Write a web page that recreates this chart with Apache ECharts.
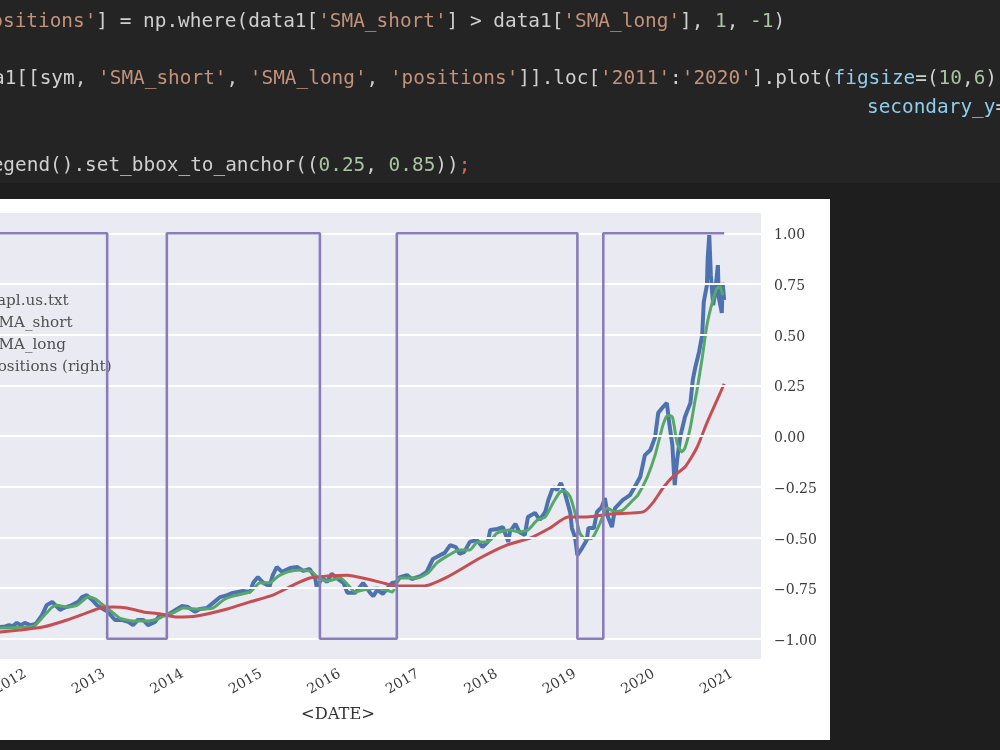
<!DOCTYPE html>
<html>
<head>
<meta charset="utf-8">
<title>SMA positions</title>
<script src="https://cdn.jsdelivr.net/npm/echarts@6/dist/echarts.min.js"></script>
<style>
html, body {margin: 0; padding: 0; background: #1e1e1e;}
#main {width: 1000px; height: 750px;}
</style>
</head>
<body>
<div id="main"></div>
<script>
/* Years shown on the date axis. */
var yearTicks     = [2011, 2012, 2013, 2014, 2015, 2016, 2017, 2018, 2019, 2020, 2021];
var positionTicks = [-1, -0.75, -0.5, -0.25, 0, 0.25, 0.5, 0.75, 1];

/* Close price. */
var priceDates = [
    2011.60, 2011.68, 2011.74, 2011.79, 2011.84, 2011.89, 2011.94, 2011.99, 2012.06, 2012.13, 2012.21, 2012.27,
    2012.34, 2012.38, 2012.44, 2012.48, 2012.59, 2012.67, 2012.72, 2012.78, 2012.85, 2012.91, 2012.99, 2013.05,
    2013.14, 2013.23, 2013.31, 2013.37, 2013.43, 2013.50, 2013.56, 2013.65, 2013.71, 2013.80, 2013.87, 2013.99,
    2014.07, 2014.16, 2014.22, 2014.31, 2014.39, 2014.48, 2014.57, 2014.64, 2014.77, 2014.86, 2014.90, 2014.96,
    2015.03, 2015.11, 2015.15, 2015.20, 2015.27, 2015.37, 2015.46, 2015.54, 2015.62, 2015.69, 2015.71, 2015.78,
    2015.84, 2015.90, 2015.98, 2016.05, 2016.10, 2016.20, 2016.30, 2016.39, 2016.43, 2016.48, 2016.55, 2016.67,
    2016.73, 2016.77, 2016.86, 2016.92, 2017.03, 2017.11, 2017.19, 2017.28, 2017.34, 2017.41, 2017.48, 2017.53,
    2017.59, 2017.66, 2017.75, 2017.82, 2017.89, 2017.92, 2018.01, 2018.08, 2018.15, 2018.17, 2018.24, 2018.29,
    2018.36, 2018.40, 2018.49, 2018.55, 2018.62, 2018.66, 2018.72, 2018.77, 2018.82, 2018.87, 2018.94, 2018.96,
    2019.00, 2019.03, 2019.09, 2019.15, 2019.17, 2019.24, 2019.28, 2019.34, 2019.38, 2019.42, 2019.47, 2019.51,
    2019.61, 2019.70, 2019.76, 2019.83, 2019.89, 2019.96, 2020.02, 2020.06, 2020.12, 2020.17, 2020.20, 2020.24,
    2020.26, 2020.27, 2020.30, 2020.34, 2020.40, 2020.47, 2020.50, 2020.53, 2020.58, 2020.62, 2020.64, 2020.68,
    2020.69, 2020.71, 2020.73, 2020.76, 2020.78, 2020.82, 2020.83, 2020.87, 2020.88, 2020.90
];
var priceValues = [
    12.9, 13.2, 13.4, 13.8, 13.5, 14.5, 13.8, 14.5, 13.8, 14.2, 16.9, 20.0,
    21.0, 20.0, 18.5, 19.1, 20.0, 21.0, 22.5, 23.1, 21.6, 20.0, 18.8, 17.9,
    15.4, 15.4, 14.8, 13.8, 15.4, 15.4, 13.8, 14.8, 16.9, 16.9, 17.9, 19.7,
    19.4, 17.9, 18.8, 19.1, 20.7, 22.5, 23.1, 23.8, 24.4, 24.1, 26.9, 28.7,
    26.9, 25.9, 29.3, 31.8, 30.3, 31.5, 31.8, 30.6, 31.2, 28.4, 25.6, 28.4,
    27.2, 29.7, 28.1, 26.9, 23.8, 23.8, 26.9, 23.8, 22.8, 24.7, 23.5, 26.9,
    27.2, 28.7, 29.3, 28.1, 29.0, 30.3, 34.3, 35.5, 36.2, 38.6, 38.0, 35.9,
    36.5, 39.6, 40.2, 38.0, 39.6, 43.3, 43.6, 44.2, 39.6, 42.7, 45.2, 42.7,
    41.7, 47.3, 48.6, 46.4, 48.9, 52.6, 56.6, 55.7, 57.9, 54.8, 48.6, 43.9,
    41.1, 35.5, 37.7, 40.2, 43.9, 43.9, 48.9, 50.4, 53.2, 47.3, 44.2, 50.1,
    52.6, 54.1, 56.6, 59.7, 66.5, 68.1, 72.1, 79.6, 81.4, 82.7, 76.5, 69.6,
    61.0, 57.2, 65.0, 72.1, 78.3, 82.7, 89.8, 93.5, 98.5, 103.7, 114.0, 119.2,
    127.6, 134.7, 122.3, 113.0, 116.1, 125.4, 115.5, 110.6, 119.9, 114.6
];

/* Short moving average. */
var shortDates = [
    2011.60, 2011.68, 2012.10, 2012.22, 2012.34, 2012.40, 2012.53, 2012.66, 2012.80, 2012.89, 2012.99, 2013.10,
    2013.20, 2013.37, 2013.55, 2013.68, 2013.78, 2013.88, 2014.01, 2014.18, 2014.39, 2014.52, 2014.64, 2014.86,
    2014.99, 2015.11, 2015.22, 2015.34, 2015.50, 2015.65, 2015.73, 2015.84, 2016.01, 2016.11, 2016.20, 2016.30,
    2016.48, 2016.67, 2016.77, 2016.99, 2017.13, 2017.24, 2017.37, 2017.53, 2017.66, 2017.76, 2017.89, 2018.01,
    2018.17, 2018.29, 2018.40, 2018.52, 2018.62, 2018.72, 2018.81, 2018.87, 2018.94, 2019.00, 2019.06, 2019.13,
    2019.22, 2019.32, 2019.41, 2019.51, 2019.61, 2019.74, 2019.80, 2019.92, 2020.02, 2020.12, 2020.18, 2020.24,
    2020.30, 2020.36, 2020.40, 2020.47, 2020.53, 2020.55, 2020.62, 2020.68, 2020.75, 2020.81, 2020.85, 2020.88
];
var shortValues = [
    12.6, 12.9, 13.5, 16.3, 19.4, 20.0, 19.4, 20.0, 22.5, 21.9, 20.0, 17.9,
    16.0, 15.1, 15.1, 15.7, 16.9, 17.6, 19.1, 18.8, 19.1, 21.6, 22.8, 24.1,
    26.9, 26.9, 29.0, 30.3, 30.9, 30.3, 28.4, 27.5, 28.4, 26.2, 24.1, 24.7,
    25.3, 24.1, 28.4, 28.4, 30.0, 33.1, 35.2, 37.1, 37.1, 39.6, 39.6, 42.4,
    43.3, 42.7, 43.3, 46.4, 47.3, 51.7, 55.1, 55.4, 53.5, 48.6, 42.4, 40.5,
    40.8, 45.5, 50.1, 48.9, 49.5, 52.6, 54.1, 59.7, 66.5, 75.8, 78.9, 78.3,
    70.3, 67.5, 68.7, 75.2, 83.6, 86.1, 96.6, 106.8, 114.0, 118.3, 118.6, 116.1
];

/* Long moving average. */
var longDates = [
    2011.60, 2011.68, 2011.93, 2012.22, 2012.53, 2012.78, 2012.95, 2013.11, 2013.29, 2013.50, 2013.71, 2013.93,
    2014.18, 2014.57, 2014.86, 2015.15, 2015.41, 2015.62, 2015.84, 2016.10, 2016.35, 2016.55, 2016.73, 2017.06,
    2017.37, 2017.79, 2018.13, 2018.43, 2018.68, 2018.91, 2019.15, 2019.48, 2019.87, 2019.99, 2020.12, 2020.24,
    2020.40, 2020.55, 2020.68, 2020.81, 2020.90
];
var longValues = [
    11.4, 11.7, 12.3, 13.2, 15.4, 17.6, 19.1, 19.4, 19.1, 17.9, 17.3, 16.3,
    16.6, 18.8, 21.0, 23.1, 26.2, 28.4, 29.0, 29.3, 28.1, 26.9, 25.9, 25.9,
    28.7, 34.6, 38.6, 40.8, 43.9, 47.3, 47.3, 48.3, 48.9, 51.7, 56.3, 59.7,
    62.8, 68.7, 76.5, 83.6, 88.6
];

/* Positions on the secondary axis. */
var positionDates  = [2011.00, 2013.04, 2013.04, 2013.80, 2013.80, 2015.75, 2015.75, 2016.73, 2016.73, 2019.03, 2019.03, 2019.36, 2019.36, 2020.90];
var positionValues = [1, 1, -1, -1, 1, 1, -1, -1, 1, 1, -1, -1, 1, 1];

var legendNames = ['aapl.us.txt', 'SMA_short', 'SMA_long', 'positions (right)'];

/* Notebook code above the figure: [x, y, [[style, text], ...]]. */
var codeLines = [
    [-8.7, 22, [['s', "ositions'"], ['d', '] = np.where(data1['], ['s', "'SMA_short'"], ['d', '] > data1['], ['s', "'SMA_long'"], ['d', '], '], ['n', '1'], ['d', ', '], ['n', '-1'], ['d', ')']]],
    [-7, 79, [['d', 'a1[[sym, '], ['s', "'SMA_short'"], ['d', ', '], ['s', "'SMA_long'"], ['d', ', '], ['s', "'positions'"], ['d', ']].loc['], ['s', "'2011'"], ['d', ':'], ['s', "'2020'"], ['d', '].plot('], ['p', 'figsize'], ['d', '=('], ['n', '10'], ['d', ','], ['n', '6'], ['d', '),']]],
    [867, 108, [['p', 'secondary_y'], ['d', '=']]],
    [-8.3, 166, [['d', 'egend().set_bbox_to_anchor(('], ['n', '0.25'], ['d', ', '], ['n', '0.85'], ['d', '))'], ['r', ';']]]
];

var serifFont = '"DejaVu Serif", serif';
var monoFont  = '"DejaVu Sans Mono", "Liberation Mono", monospace';

/**
 * Zip dates and values into [x, y] pairs.
 *
 * @param  array $dates
 * @param  array $values
 * @access public
 * @return array
 */
function zipSeries(dates, values)
{
    return dates.map(function(date, i){return [date, values[i]]});
}

/**
 * Build a rich text graphic for one line of code.
 *
 * @param  array $line
 * @access public
 * @return object
 */
function codeGraphic(line)
{
    var text = line[2].map(function(token){return '{' + token[0] + '|' + token[1] + '}'}).join('');
    var base = {fontFamily: monoFont, fontSize: 19.4};
    var rich = {
        d: Object.assign({fill: '#cfcfcf'}, base),
        s: Object.assign({fill: '#c3927a'}, base),
        n: Object.assign({fill: '#a9c4a0'}, base),
        p: Object.assign({fill: '#8fcdec'}, base),
        r: Object.assign({fill: '#d8664f'}, base)
    };
    return {
        type: 'text',
        x: line[0],
        y: line[1],
        silent: true,
        style: {text: text, rich: rich, verticalAlign: 'middle', fontFamily: monoFont, fontSize: 19.4, fill: '#cfcfcf'}
    };
}

var background = [
    {type: 'rect', z: -10, silent: true, shape: {x: 0, y: 0, width: 1000, height: 183}, style: {fill: '#242424'}},
    {type: 'rect', z: -10, silent: true, shape: {x: 0, y: 183, width: 1000, height: 567}, style: {fill: '#1e1e1e'}},
    {type: 'rect', z: -9, silent: true, shape: {x: 0, y: 199, width: 830, height: 541}, style: {fill: '#ffffff'}}
];

var labelStyle = {color: '#3a3a3a', fontFamily: serifFont, fontSize: 14};

var chart  = echarts.init(document.getElementById('main'), null, {renderer: 'canvas'});
var option = {
    animation: false,
    backgroundColor: '#1e1e1e',
    textStyle: {fontFamily: serifFont},
    graphic: {elements: background.concat(codeLines.map(codeGraphic))},
    legend: {
        orient: 'vertical',
        left: -48,
        top: 294,
        padding: 0,
        itemWidth: 30,
        itemHeight: 14,
        itemGap: 6.8,
        itemStyle: {opacity: 1},
        textStyle: {color: '#505050', fontFamily: serifFont, fontSize: 15.2},
        data: legendNames
    },
    grid: {
        show: true,
        left: -92,
        right: 239,
        top: 213,
        bottom: 91,
        borderWidth: 0,
        outerBoundsMode: 'none',
        backgroundColor: '#eaeaf2'
    },
    xAxis: {
        type: 'value',
        min: 2010.503,
        max: 2021.369,
        name: '<DATE>',
        nameLocation: 'middle',
        nameGap: 48,
        nameTextStyle: {color: '#333', fontFamily: serifFont, fontSize: 16.3, padding: [0, 0, 0, 7]},
        axisLine: {show: false},
        axisTick: {show: false, customValues: yearTicks},
        splitLine: {show: false},
        axisLabel: Object.assign({
            rotate: 30,
            margin: 14,
            customValues: yearTicks,
            formatter: function(value){return String(value)}
        }, labelStyle)
    },
    yAxis: [
        {
            type: 'value',
            min: 3.3,
            max: 141.56,
            show: false
        },
        {
            type: 'value',
            position: 'right',
            min: -1.1,
            max: 1.1,
            z: 3,
            axisLine: {show: false},
            axisTick: {show: false, customValues: positionTicks},
            splitLine: {show: true, lineStyle: {color: '#ffffff', width: 1.8}},
            axisLabel: {
                margin: 13,
                customValues: positionTicks,
                rich: {v: Object.assign({padding: [5, 0, 0, 0]}, labelStyle)},
                formatter: function(value){return '{v|' + value.toFixed(2).replace('-', '\u2212') + '}'}
            }
        }
    ],
    series: [
        {
            name: legendNames[0],
            type: 'line',
            yAxisIndex: 0,
            z: 2,
            symbol: 'none',
            color: '#4c72b0',
            lineStyle: {width: 4},
            data: zipSeries(priceDates, priceValues)
        },
        {
            name: legendNames[1],
            type: 'line',
            yAxisIndex: 0,
            z: 2,
            symbol: 'none',
            smooth: 0.2,
            color: '#55a868',
            lineStyle: {width: 3},
            data: zipSeries(shortDates, shortValues)
        },
        {
            name: legendNames[2],
            type: 'line',
            yAxisIndex: 0,
            z: 2,
            symbol: 'none',
            smooth: 0.2,
            color: '#c44e52',
            lineStyle: {width: 3},
            data: zipSeries(longDates, longValues)
        },
        {
            name: legendNames[3],
            type: 'line',
            yAxisIndex: 1,
            z: 4,
            symbol: 'none',
            color: '#8a7dba',
            lineStyle: {width: 2.6},
            data: zipSeries(positionDates, positionValues)
        }
    ]
};
chart.setOption(option);
</script>
</body>
</html>
